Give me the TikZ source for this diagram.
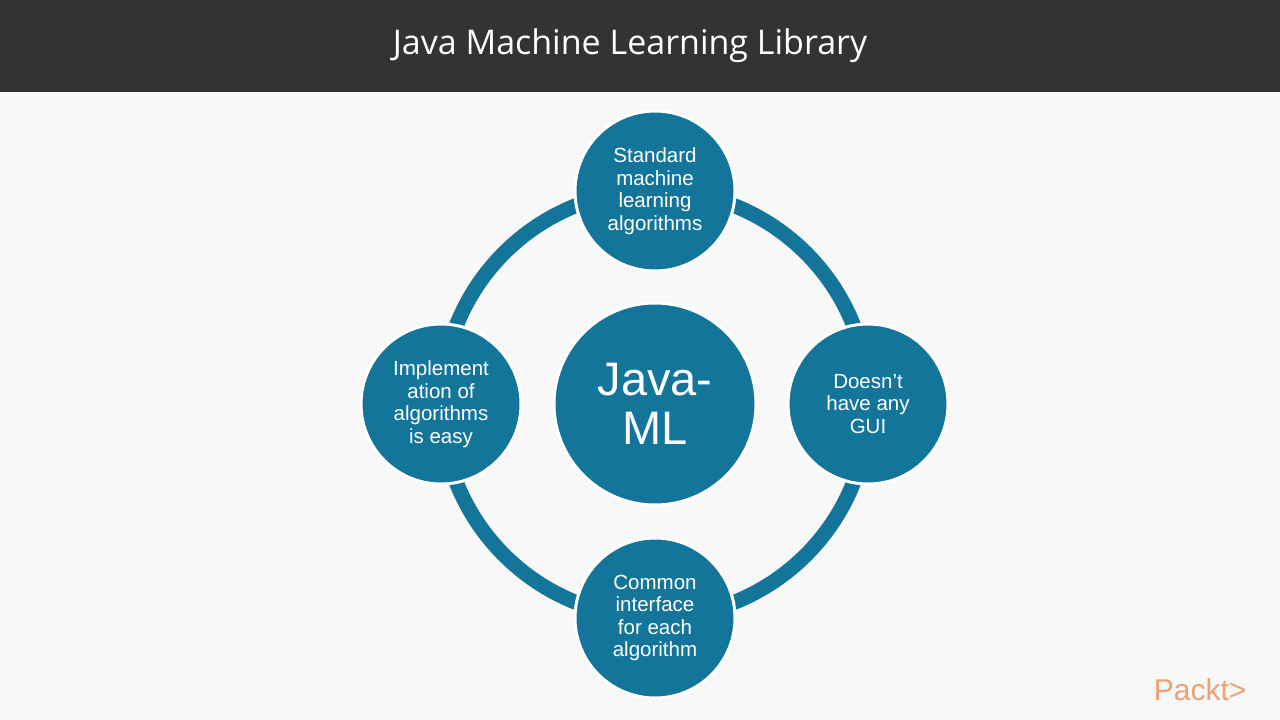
\documentclass[tikz,border=0pt]{standalone}
\usepackage{fontspec}
\setmainfont{Liberation Sans}
\newfontfamily\titlefont{Open Sans}
\definecolor{bar}{HTML}{333333}
\definecolor{bg}{HTML}{F8F8F8}
\definecolor{teal}{HTML}{13759A}
\definecolor{packt}{HTML}{F0A070}
\begin{document}
\begin{tikzpicture}[x=1pt,y=-1pt,
  small/.style={circle,fill=teal,draw=white,line width=3pt,minimum size=160pt,inner sep=0pt,text=white,align=center,font=\fontsize{20.5}{22.5}\selectfont},
  big/.style={circle,fill=teal,draw=white,line width=3pt,minimum size=202pt,inner sep=0pt,text=white,align=center,font=\fontsize{47}{49}\selectfont}]
\useasboundingbox (0,0) rectangle (1280,720);
\fill[bg] (0,0) rectangle (1280,720);
\fill[bar] (0,0) rectangle (1280,92);
\node[text=white,font=\titlefont\fontsize{34}{40}\selectfont] (title) at (630,46) {Java Machine Learning Library};
\draw[teal,line width=15pt] (655,404) circle (213.5);
\node[big] (c) at (655,404) {Java-\\ML};
\node[small] (t) at (655,191) {Standard\\machine\\learning\\algorithms};
\node[small] (r) at (868,404) {Doesn’t\\have any\\GUI};
\node[small] (b) at (655,618) {Common\\interface\\for each\\algorithm};
\node[small] (l) at (441,404) {Implement\\ation of\\algorithms\\is easy};
\node[text=packt,font=\fontsize{30}{32}\selectfont,anchor=east] (logo) at (1250,690) {Packt>};
\end{tikzpicture}
\end{document}
